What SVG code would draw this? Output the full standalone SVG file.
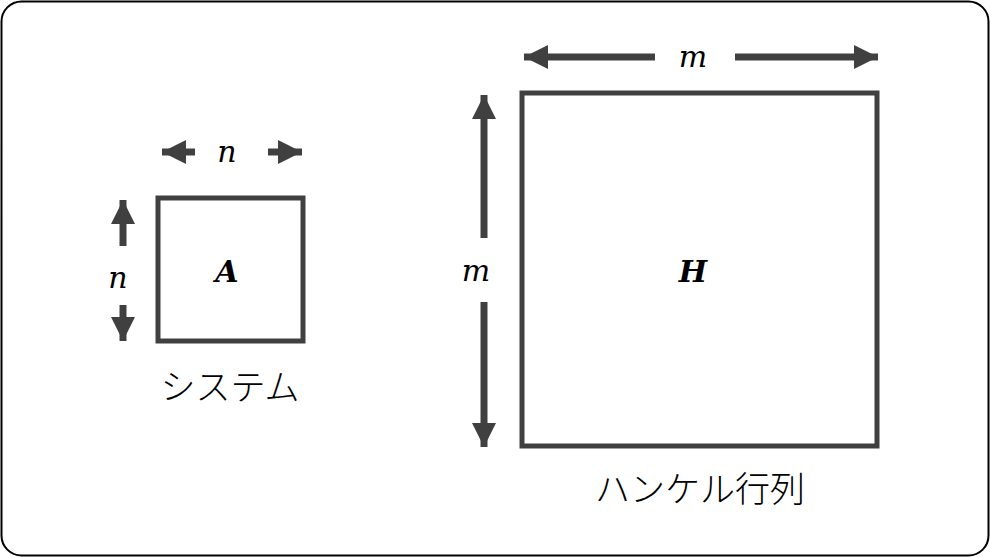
<svg xmlns="http://www.w3.org/2000/svg" width="990" height="557" viewBox="0 0 990 557">
<style>
.box{fill:#fff;stroke:#404040;stroke-width:5}
.ar{stroke:#404040;stroke-width:7;fill:none}
.var{font-family:"DejaVu Serif","Liberation Serif",serif;font-style:italic;font-size:30px;fill:#000;text-anchor:middle}
.bold{font-weight:bold}
.jp{font-family:"Noto Sans CJK JP",sans-serif;font-size:35px;font-weight:300;fill:#000;text-anchor:middle}
</style>
<defs>
<marker id="ah" viewBox="0 0 10 10" refX="10" refY="5" markerWidth="24" markerHeight="24" markerUnits="userSpaceOnUse" orient="auto"><path d="M0,0 L10,5 L0,10 z" fill="#404040"/></marker>
</defs>
<rect x="1.5" y="1.5" width="987" height="554" rx="20" fill="#fff" stroke="#000" stroke-width="2"/>
<g id="connectors">
<line class="ar" x1="195" y1="152" x2="162" y2="152" marker-end="url(#ah)"/>
<line class="ar" x1="268" y1="152" x2="302" y2="152" marker-end="url(#ah)"/>
<line class="ar" x1="123" y1="246" x2="123" y2="200" marker-end="url(#ah)"/>
<line class="ar" x1="123" y1="305" x2="123" y2="341" marker-end="url(#ah)"/>
<line class="ar" x1="655" y1="57" x2="524" y2="57" marker-end="url(#ah)"/>
<line class="ar" x1="735" y1="57" x2="878" y2="57" marker-end="url(#ah)"/>
<line class="ar" x1="484" y1="238" x2="484" y2="95" marker-end="url(#ah)"/>
<line class="ar" x1="484" y1="302" x2="484" y2="447" marker-end="url(#ah)"/>
</g>
<g id="labels">
<text class="var" x="227" y="162">n</text>
<text class="var" x="118" y="288">n</text>
<text class="var" x="693" y="67">m</text>
<text class="var" x="476" y="281">m</text>
</g>
<g id="nodeA">
<rect class="box" x="158" y="198" width="145" height="143"/>
<text class="var bold" x="227" y="282">A</text>
<text class="jp" x="230" y="400">システム</text>
</g>
<g id="nodeH">
<rect class="box" x="522" y="93" width="355" height="353"/>
<text class="var bold" x="693" y="282">H</text>
<text class="jp" x="700" y="502">ハンケル行列</text>
</g>
</svg>
